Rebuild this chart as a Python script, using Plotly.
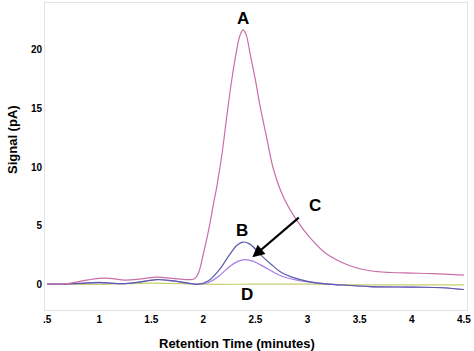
import plotly.graph_objects as go

# Curve A
xa = [0.5, 0.7, 0.85, 1.0, 1.1, 1.25, 1.4, 1.55, 1.7, 1.85, 1.91, 1.95, 2.0, 2.05, 2.1, 2.13, 2.18, 2.22,
      2.27, 2.32, 2.35, 2.38, 2.41, 2.45, 2.5, 2.54, 2.61, 2.67, 2.77, 2.9, 3.02, 3.18, 3.4, 3.6, 3.8,
      4.0, 4.2, 4.5]
ya = [0, 0.05, 0.3, 0.5, 0.5, 0.35, 0.45, 0.6, 0.5, 0.4, 0.45, 0.9, 2.6, 4.6, 7.0, 8.4, 11.2, 14.0,
      17.3, 20.0, 21.2, 21.7, 21.3, 19.6, 17.4, 15.4, 12.4, 9.9, 7.4, 5.4, 4.0, 2.6, 1.6, 1.15, 1.0,
      0.95, 0.9, 0.77]
# Curve B
xb = [0.5, 0.7, 0.85, 1.0, 1.25, 1.4, 1.55, 1.7, 1.85, 1.95, 2.05, 2.15, 2.25, 2.32, 2.38, 2.45, 2.55,
      2.65, 2.75, 2.85, 3.0, 3.15, 3.3, 3.6, 4.0, 4.3, 4.5]
yb = [0, 0.02, 0.1, 0.15, 0.05, 0.2, 0.4, 0.3, 0.1, 0.0, 0.3, 1.2, 2.5, 3.3, 3.6, 3.4, 2.5,
      1.7, 1.0, 0.6, 0.25, 0.05, -0.05, -0.2, -0.25, -0.3, -0.45]
# Curve C
xc = [0.5, 0.7, 0.85, 1.0, 1.25, 1.4, 1.55, 1.7, 1.85, 1.95, 2.05, 2.15, 2.25, 2.33, 2.4, 2.48, 2.58,
      2.7, 2.8, 2.9, 3.0, 3.15, 3.3, 3.6, 4.0, 4.3, 4.5]
yc = [0, 0.02, 0.08, 0.12, 0.05, 0.2, 0.38, 0.28, 0.1, 0.0, 0.15, 0.7, 1.5, 1.95, 2.1, 1.95, 1.5,
      0.9, 0.55, 0.35, 0.2, 0.05, -0.05, -0.2, -0.25, -0.3, -0.45]
# Curve D
xd = [0.5, 1.0, 1.5, 2.0, 2.5, 3.0, 3.5, 4.0, 4.5]
yd = [0, -0.02, 0.1, 0.0, 0.0, 0.0, -0.05, -0.05, -0.05]

tick_vals = [0.5, 1, 1.5, 2, 2.5, 3, 3.5, 4, 4.5]
tick_text = [".5", "1", "1.5", "2", "2.5", "3", "3.5", "4", "4.5"]
y_tick_vals = [0, 5, 10, 15, 20]

fig = go.Figure()
fig.add_trace(go.Scatter(x=xd, y=yd, mode="lines", line=dict(color="#c8d070", width=1.2, shape="spline")))
fig.add_trace(go.Scatter(x=xc, y=yc, mode="lines", line=dict(color="#a77ee6", width=1.2, shape="spline")))
fig.add_trace(go.Scatter(x=xb, y=yb, mode="lines", line=dict(color="#5a5cab", width=1.2, shape="spline")))
fig.add_trace(go.Scatter(x=xa, y=ya, mode="lines", line=dict(color="#c86fa8", width=1.2, shape="spline")))

lab_font = dict(family="Liberation Sans, Arial", size=17, color="black")
for txt, x, y in [("A", 2.38, 22.7), ("B", 2.37, 4.6), ("C", 3.07, 6.7), ("D", 2.42, -0.85)]:
    fig.add_annotation(x=x, y=y, text="<b>%s</b>" % txt, showarrow=False, font=lab_font)

fig.add_annotation(x=2.47, y=2.3, ax=2.93, ay=5.8, xref="x", yref="y", axref="x", ayref="y",
                   text="", showarrow=True, arrowhead=2, arrowsize=1.1, arrowwidth=2.2, arrowcolor="black")

# axis titles (positioned as in reference)
fig.add_annotation(x=(237 - 45) / 422, y=-(343 - 310) / 307, xref="paper", yref="paper",
                   text="<b>Retention Time (minutes)</b>", showarrow=False,
                   font=dict(size=13), xanchor="center", yanchor="middle")
fig.add_annotation(x=-(45 - 12) / 422, y=(310 - 140) / 307, xref="paper", yref="paper",
                   text="<b>Signal (pA)</b>", showarrow=False, textangle=-90,
                   font=dict(size=13), xanchor="center", yanchor="middle")

fig.update_layout(
    width=474, height=351, margin=dict(l=45, r=7, t=3, b=41),
    paper_bgcolor="white", plot_bgcolor="white", showlegend=False,
    font=dict(family="Liberation Sans, Arial", color="black"),
)
fig.update_xaxes(range=[0.48, 4.53], tickvals=tick_vals, ticktext=["<b>%s</b>" % t for t in tick_text],
                 showgrid=False, zeroline=False, showline=True, linecolor="#e3e3e3", mirror=True,
                 ticks="", tickfont=dict(size=10))
fig.update_yaxes(range=[-2.2, 24], tickvals=y_tick_vals,
                 ticktext=["<b>%d</b>" % v for v in y_tick_vals],
                 showgrid=False, zeroline=False, showline=True, linecolor="#e3e3e3", mirror=True,
                 ticks="", tickfont=dict(size=10))

fig.write_html("out.html")
